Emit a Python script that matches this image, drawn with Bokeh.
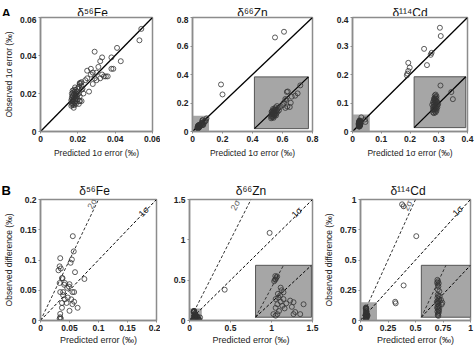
from bokeh.plotting import figure
from bokeh.layouts import column, row
from bokeh.models import Range1d, FixedTicker, NumeralTickFormatter
from bokeh.core.properties import value
from bokeh.embed import file_html
from bokeh.resources import INLINE

FONT = "Liberation Sans"

# ---------------- data ----------------
# Panel A: observed vs predicted 1-sigma error
fe_a_x = [0.0165, 0.017, 0.0175, 0.0168, 0.018, 0.0172, 0.0178, 0.0185, 0.0165, 0.017, 0.0178, 0.0185, 0.019,
          0.0168, 0.0175, 0.0182, 0.019, 0.0172, 0.018, 0.0188, 0.0195, 0.0168, 0.0175, 0.0183, 0.019, 0.0198,
          0.0172, 0.018, 0.0188, 0.0195, 0.0205, 0.021, 0.02, 0.021, 0.0198, 0.0205, 0.021, 0.0215, 0.022, 0.0225,
          0.0178, 0.019, 0.0205, 0.022, 0.0185,
          0.021, 0.022, 0.022, 0.021, 0.023, 0.024, 0.025, 0.025, 0.026, 0.027, 0.027, 0.028, 0.028, 0.029, 0.029,
          0.030, 0.030, 0.031, 0.032, 0.032, 0.033, 0.033, 0.034, 0.035, 0.036, 0.038, 0.038, 0.039, 0.041, 0.043,
          0.053, 0.054]
fe_a_y = [0.0135, 0.014, 0.0145, 0.015, 0.0138, 0.016, 0.0155, 0.015, 0.0165, 0.017, 0.017, 0.0168, 0.016,
          0.018, 0.0185, 0.018, 0.0178, 0.019, 0.0195, 0.019, 0.0185, 0.02, 0.0205, 0.021, 0.02, 0.0195,
          0.0215, 0.022, 0.0218, 0.021, 0.02, 0.0185, 0.017, 0.016, 0.0225, 0.0235, 0.0255, 0.0255, 0.024, 0.0225,
          0.0125, 0.0145, 0.0145, 0.016, 0.0232,
          0.025, 0.026, 0.022, 0.016, 0.020, 0.027, 0.028, 0.032, 0.021, 0.030, 0.033, 0.031, 0.025, 0.042, 0.028,
          0.031, 0.027, 0.034, 0.037, 0.028, 0.039, 0.030, 0.029, 0.029, 0.029, 0.033, 0.039, 0.033, 0.044, 0.037,
          0.048, 0.054]

zn_a_x = [0.55, 0.61, 0.19, 0.20,
          0.034, 0.036, 0.038, 0.040, 0.042, 0.037, 0.039, 0.041, 0.044, 0.046, 0.035, 0.038, 0.040, 0.043, 0.045,
          0.036, 0.042, 0.048, 0.039, 0.041, 0.044, 0.047, 0.037, 0.040, 0.034, 0.036, 0.050, 0.052, 0.046, 0.043,
          0.035, 0.038,
          0.0935, 0.088, 0.063, 0.067, 0.066, 0.068, 0.076, 0.065, 0.060, 0.074, 0.063, 0.072, 0.083, 0.058]
zn_a_y = [0.66, 0.70, 0.33, 0.26,
          0.026, 0.028, 0.030, 0.032, 0.034, 0.033, 0.036, 0.038, 0.037, 0.040, 0.031, 0.025, 0.027, 0.030, 0.033,
          0.035, 0.041, 0.043, 0.023, 0.029, 0.028, 0.036, 0.038, 0.040, 0.022, 0.024, 0.039, 0.046, 0.048, 0.045,
          0.036, 0.042,
          0.092, 0.075, 0.063, 0.047, 0.078, 0.079, 0.068, 0.061, 0.055, 0.055, 0.044, 0.046, 0.070, 0.050]

cd_a_x = [0.304, 0.307, 0.249, 0.275, 0.272, 0.259, 0.194, 0.199, 0.194, 0.191, 0.189,
          0.022, 0.023, 0.024, 0.025, 0.026, 0.022, 0.023, 0.024, 0.025, 0.026, 0.027, 0.022, 0.023, 0.024,
          0.025, 0.026, 0.027, 0.028, 0.023, 0.024, 0.025, 0.026, 0.022, 0.023, 0.024, 0.025, 0.026, 0.024,
          0.025, 0.023, 0.024, 0.025, 0.026, 0.021, 0.027,
          0.0306, 0.0432, 0.045]
cd_a_y = [0.364, 0.335, 0.290, 0.276, 0.269, 0.233, 0.241, 0.224, 0.2125, 0.203, 0.197,
          0.018, 0.017, 0.019, 0.018, 0.020, 0.021, 0.022, 0.021, 0.023, 0.022, 0.024, 0.024, 0.025, 0.026,
          0.025, 0.027, 0.026, 0.028, 0.028, 0.029, 0.030, 0.031, 0.030, 0.032, 0.033, 0.032, 0.034, 0.035,
          0.036, 0.034, 0.038, 0.039, 0.037, 0.027, 0.030,
          0.0497, 0.042, 0.0336]

# Panel B: observed difference vs predicted error
fe_b_x = [0.0557, 0.0573, 0.0541, 0.0519, 0.0595, 0.034, 0.033, 0.031, 0.035, 0.037, 0.038, 0.033, 0.042,
          0.041, 0.034, 0.039, 0.046, 0.049, 0.055, 0.058, 0.047, 0.053, 0.042, 0.037, 0.045, 0.055, 0.064,
          0.050, 0.037, 0.034, 0.034, 0.033, 0.035, 0.0757, 0.058, 0.039, 0.050]
fe_b_y = [0.1394, 0.1142, 0.1008, 0.0954, 0.0799, 0.103, 0.0895, 0.083, 0.086, 0.070, 0.070, 0.062, 0.062,
          0.059, 0.047, 0.047, 0.054, 0.056, 0.047, 0.047, 0.038, 0.035, 0.035, 0.029, 0.029, 0.027, 0.021,
          0.016, 0.021, 0.011, 0.0054, 0.003, 0.003, 0.0686, 0.031, 0.042, 0.060]

zn_b_x = [0.977, 0.429,
          0.052, 0.056, 0.050, 0.058, 0.054, 0.053, 0.0675, 0.070, 0.075, 0.0615, 0.054, 0.0675, 0.0585, 0.054,
          0.0585, 0.048, 0.072, 0.078, 0.093, 0.102, 0.0975, 0.1065, 0.129, 0.120, 0.102, 0.063, 0.054, 0.066,
          0.060, 0.075, 0.0825]
zn_b_y = [1.086, 0.382,
          0.108, 0.115, 0.104, 0.118, 0.110, 0.119, 0.0855, 0.078, 0.072, 0.057, 0.0525, 0.045, 0.0375, 0.027,
          0.009, 0.009, 0.033, 0.0255, 0.048, 0.0435, 0.030, 0.015, 0.0375, 0.009, 0.009, 0.018, 0.0045, 0.063,
          0.0675, 0.0525, 0.040]

cd_b_x = [0.378, 0.392, 0.507, 0.392, 0.315, 0.320,
          0.049, 0.051, 0.053, 0.050, 0.052, 0.048, 0.055, 0.050, 0.052, 0.049, 0.054, 0.050, 0.056, 0.052,
          0.049, 0.053, 0.051, 0.055, 0.050, 0.052, 0.049, 0.053, 0.051, 0.050, 0.052, 0.048, 0.054, 0.047,
          0.064, 0.062, 0.060, 0.056, 0.050]
cd_b_y = [0.960, 0.944, 0.697, 0.290, 0.155, 0.142,
          0.108, 0.104, 0.098, 0.094, 0.089, 0.100, 0.075, 0.065, 0.061, 0.056, 0.052, 0.047, 0.046, 0.042,
          0.038, 0.034, 0.030, 0.027, 0.024, 0.020, 0.016, 0.013, 0.010, 0.006, 0.004, 0.028, 0.019, 0.044,
          0.042, 0.037, 0.050, 0.060, 0.080]

titles = ["δ⁵⁶Fe", "δ⁶⁶Zn", "δ¹¹⁴Cd"]
panel_letters = ["A", "B"]
a_max = [0.06, 0.8, 0.4]
a_ticks = [[0, 0.02, 0.04, 0.06], [0, 0.2, 0.4, 0.6, 0.8], [0, 0.1, 0.2, 0.3, 0.4]]
b_max = [0.2, 1.5, 1.0]
b_ticks = [[0, 0.05, 0.1, 0.15, 0.2], [0, 0.5, 1, 1.5], [0, 0.25, 0.5, 0.75, 1]]
a_zoom = [None, 0.11, 0.06]
b_zoom = [None, 0.15, 0.15]

GRAY = "#a6a6a6"
FRAME = "#8c8c8c"
TOTAL_W = 474


def base_fig(w, h, bl, br, bt, bb, vmax, ticks, xlabel, ylabel):
    p = figure(width=w, height=h, x_range=Range1d(0, vmax), y_range=Range1d(0, vmax),
               output_backend="svg", toolbar_location=None,
               min_border_left=bl, min_border_right=br, min_border_top=bt, min_border_bottom=bb)
    p.background_fill_color = "white"
    p.border_fill_color = "white"
    p.outline_line_color = FRAME
    p.outline_line_width = 1.5
    p.grid.visible = False
    for ax in (p.xaxis[0], p.yaxis[0]):
        ax.ticker = FixedTicker(ticks=ticks)
        ax.formatter = NumeralTickFormatter(format="0.[00]")
        ax.axis_line_color = FRAME
        ax.axis_line_width = 1.5
        ax.major_tick_line_color = FRAME
        ax.major_tick_in = 0
        ax.major_tick_out = 2
        ax.minor_tick_line_color = None
        ax.major_label_text_font = FONT
        ax.major_label_text_font_size = "8.5px"
        ax.major_label_text_font_style = "bold"
        ax.major_label_text_color = "#222"
        ax.major_label_standoff = 2
        ax.axis_label_text_font = FONT
        ax.axis_label_text_font_size = "8.5px"
        ax.axis_label_text_font_style = "normal"
        ax.axis_label_text_color = "#222"
        ax.axis_label_standoff = 3
    p.xaxis.axis_label = xlabel
    p.yaxis.axis_label = ylabel
    return p


def header(h, letter, base_y, centers):
    """Full-width strip above a row: the panel letter and the three panel titles."""
    hp = figure(width=TOTAL_W, height=h, x_range=Range1d(0, TOTAL_W), y_range=Range1d(0, h),
                x_axis_type=None, y_axis_type=None,
                output_backend="svg", toolbar_location=None,
                min_border_left=0, min_border_right=0, min_border_top=0, min_border_bottom=0)
    hp.grid.visible = False
    hp.outline_line_color = None
    hp.background_fill_color = "white"
    hp.border_fill_color = "white"
    hp.text([1], [base_y], text=[letter], text_font=value(FONT), text_font_size="13px",
            text_font_style="bold", text_color="black", text_baseline="alphabetic", text_align="left")
    hp.text(centers, [base_y] * len(centers), text=titles, text_font=value(FONT), text_font_size="12px",
            text_color="#111", text_baseline="alphabetic", text_align="center")
    return hp


def inset_ranges(p, vmax, zoom, fx0, fx1, fy0, fy1):
    sx = zoom / (fx1 - fx0)
    sy = zoom / (fy1 - fy0)
    p.extra_x_ranges = {"ix": Range1d(-fx0 * sx, (1 - fx0) * sx)}
    p.extra_y_ranges = {"iy": Range1d(-fy0 * sy, (1 - fy0) * sy)}
    # small highlighted region in main coordinates
    p.quad(left=[0], right=[zoom], bottom=[0], top=[zoom], fill_color=GRAY, line_color=None)
    # inset box in inset coordinates
    p.quad(left=[0], right=[zoom], bottom=[0], top=[zoom], fill_color=GRAY, line_color="#555",
           line_width=1, x_range_name="ix", y_range_name="iy")


def pts(p, xs, ys, **kw):
    p.scatter(xs, ys, marker="circle", size=5, fill_color=None, line_color="#333", line_width=0.8, **kw)


def in_zoom(xs, ys, z):
    sel = [(x, y) for x, y in zip(xs, ys) if x <= z and y <= z]
    return [s[0] for s in sel], [s[1] for s in sel]


def centers_of(geoms):
    out, left = [], 0
    for w, bl, br in geoms:
        out.append(left + bl + (w - bl - br) / 2)
        left += w
    return out


# ---------------- row A ----------------
a_data = [(fe_a_x, fe_a_y), (zn_a_x, zn_a_y), (cd_a_x, cd_a_y)]
a_geom = [(160, 32, 8), (160, 32, 8), (154, 32, 7)]
a_inset = [None, (0.516, 0.966, 0.025, 0.479), (0.536, 0.985, 0.034, 0.48)]
HA = 16
row_a = []
for i in range(3):
    w, bl, br = a_geom[i]
    p = base_fig(w, 172 - HA, bl, br, 1, 41, a_max[i], a_ticks[i],
                 "Predicted 1σ error (‰)", "Observed 1σ error (‰)" if i == 0 else None)
    xs, ys = a_data[i]
    if a_zoom[i] is not None:
        inset_ranges(p, a_max[i], a_zoom[i], *a_inset[i])
    p.line([0, a_max[i]], [0, a_max[i]], line_color="black", line_width=1.3)
    pts(p, xs, ys)
    if a_zoom[i] is not None:
        z = a_zoom[i]
        p.line([0, z], [0, z], line_color="black", line_width=1.3, x_range_name="ix", y_range_name="iy")
        zx, zy = in_zoom(xs, ys, z)
        pts(p, zx, zy, x_range_name="ix", y_range_name="iy")
    row_a.append(p)

head_a = header(HA, panel_letters[0], 3.5, centers_of(a_geom))

# ---------------- row B ----------------
b_data = [(fe_b_x, fe_b_y), (zn_b_x, zn_b_y), (cd_b_x, cd_b_y)]
b_geom = [(160, 32, 4), (160, 29, 8), (154, 25, 4)]
b_inset = [None, (0.537, 0.991, 0.027, 0.456), (0.553, 1.0, 0.027, 0.456)]
b_ylabels = ["Observed difference (‰)", None, "Observed difference (‰)"]
lab2 = [(0.089, 0.193), (0.56, 1.43), (0.43, 0.95)]
lab1 = [(0.178, 0.180), (1.31, 1.34), (0.885, 0.905)]
HB = 24
row_b = []
for i in range(3):
    w, bl, br = b_geom[i]
    m = b_max[i]
    p = base_fig(w, 175 - HB, bl, br, 27 - HB, 24, m, b_ticks[i],
                 "Predicted error (‰)", b_ylabels[i])
    p.xaxis.axis_label_standoff = 1
    p.xaxis.axis_label_text_font_size = "9px"
    xs, ys = b_data[i]
    if b_zoom[i] is not None:
        inset_ranges(p, m, b_zoom[i], *b_inset[i])
    p.line([0, m], [0, m], line_color="black", line_width=1, line_dash="3 2")
    p.line([0, m / 2], [0, m], line_color="#333", line_width=1, line_dash="3 2")
    p.text([lab2[i][0]], [lab2[i][1]], text=["2σ"], angle=1.107, text_align="center",
           text_baseline="middle", text_font_size="9px", text_color="#666")
    p.text([lab1[i][0]], [lab1[i][1]], text=["1σ"], angle=0.785, text_align="center",
           text_baseline="middle", text_font_size="9px", text_color="#111")
    pts(p, xs, ys)
    if b_zoom[i] is not None:
        z = b_zoom[i]
        p.line([0, z], [0, z], line_color="black", line_width=1, line_dash="3 2",
               x_range_name="ix", y_range_name="iy")
        p.line([0, z / 2], [0, z], line_color="#333", line_width=1, line_dash="3 2",
               x_range_name="ix", y_range_name="iy")
        zx, zy = in_zoom(xs, ys, z)
        pts(p, zx, zy, x_range_name="ix", y_range_name="iy")
    row_b.append(p)

head_b = header(HB, panel_letters[1], 6, centers_of(b_geom))

layout = column(head_a, row(*row_a), head_b, row(*row_b))
open("out.html", "w").write(file_html(layout, INLINE))
